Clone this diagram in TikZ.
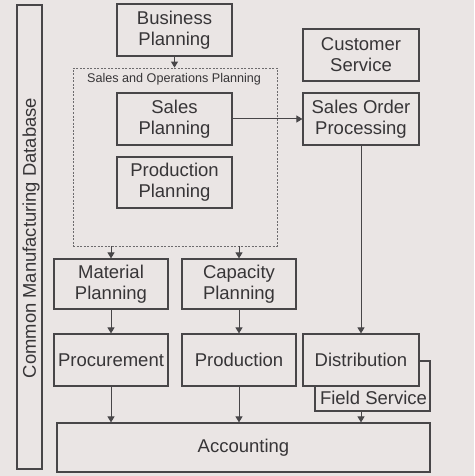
\documentclass[tikz,border=0pt]{standalone}
\usepackage{fontspec}
\setmainfont{Liberation Sans}
\usetikzlibrary{arrows.meta}
\definecolor{bg}{RGB}{234,229,228}
\definecolor{ln}{RGB}{72,70,72}
\definecolor{tx}{RGB}{55,53,55}
\begin{document}
\begin{tikzpicture}[x=1pt,y=-1pt,
  every node/.style={text=tx},
  box/.style={draw=ln,line width=1.2pt,fill=bg,rectangle,inner sep=0pt,align=center,
    font=\fontsize{18.5}{21}\selectfont},
  arr/.style={draw=ln,line width=1pt,-{Triangle[length=6pt,width=7pt]}},
  ln/.style={draw=ln,line width=1pt}]
\fill[bg] (0,0) rectangle (474,476);
\useasboundingbox (0,0) rectangle (474,476);
% database
\node[box,minimum width=25pt,minimum height=464pt] (db) at (29.5,237) {};
\node[rotate=90,font=\fontsize{18.4}{21}\selectfont] (dbt) at (31,238) {Common Manufacturing Database};
% sales and operations planning dashed box
\node[draw=ln!80,line width=0.8pt,dash pattern=on 2pt off 1.5pt,rectangle,inner sep=0pt,
  minimum width=204pt,minimum height=178pt] (sop) at (175,157) {};
\node[anchor=west,inner sep=0pt,font=\fontsize{12.6}{14}\selectfont] (sopt) at (87,79) {Sales and Operations Planning};
% boxes
\node[box,minimum width=115pt,minimum height=52pt] (bp) at (174.5,30) {Business\\Planning};
\node[box,minimum width=115pt,minimum height=52pt] (sp) at (174.5,119) {Sales\\Planning};
\node[box,minimum width=115pt,minimum height=51pt] (pp) at (174.5,182.5) {Production\\Planning};
\node[box,minimum width=116pt,minimum height=52pt] (cs) at (361,55) {Customer\\Service};
\node[box,minimum width=116pt,minimum height=52pt] (so) at (361,119) {Sales Order\\Processing};
\node[box,minimum width=114pt,minimum height=50pt] (mp) at (111,284) {Material\\Planning};
\node[box,minimum width=114pt,minimum height=50pt] (cp) at (239,284) {Capacity\\Planning};
\node[box,minimum width=114pt,minimum height=52pt] (pr) at (111,360) {Procurement};
\node[box,minimum width=114pt,minimum height=52pt] (pd) at (239,360) {Production};
\node[box,minimum width=115pt,minimum height=50pt] (fs) at (372.5,386) {};
\node[font=\fontsize{18.5}{21}\selectfont,inner sep=0pt] (fst) at (373.5,398) {Field Service};
\node[box,minimum width=116pt,minimum height=52pt] (di) at (361,360) {Distribution};
\node[box,minimum width=373pt,minimum height=49pt] (ac) at (243.5,447.5) {Accounting};
% connectors
\draw[arr] (bp.south) -- (bp.south |- sop.north);
\draw[arr] (sp.east) -- (so.west);
\draw[arr] (so.south) -- (di.north);
\draw[arr] (mp.north |- sop.south) -- (mp.north);
\draw[arr] (cp.north |- sop.south) -- (cp.north);
\draw[arr] (mp.south) -- (pr.north);
\draw[arr] (cp.south) -- (pd.north);
\draw[arr] (pr.south) -- (pr.south |- ac.north);
\draw[arr] (pd.south) -- (pd.south |- ac.north);
\draw[arr] (di.center |- fs.south) -- (di.center |- ac.north);
\end{tikzpicture}
\end{document}
